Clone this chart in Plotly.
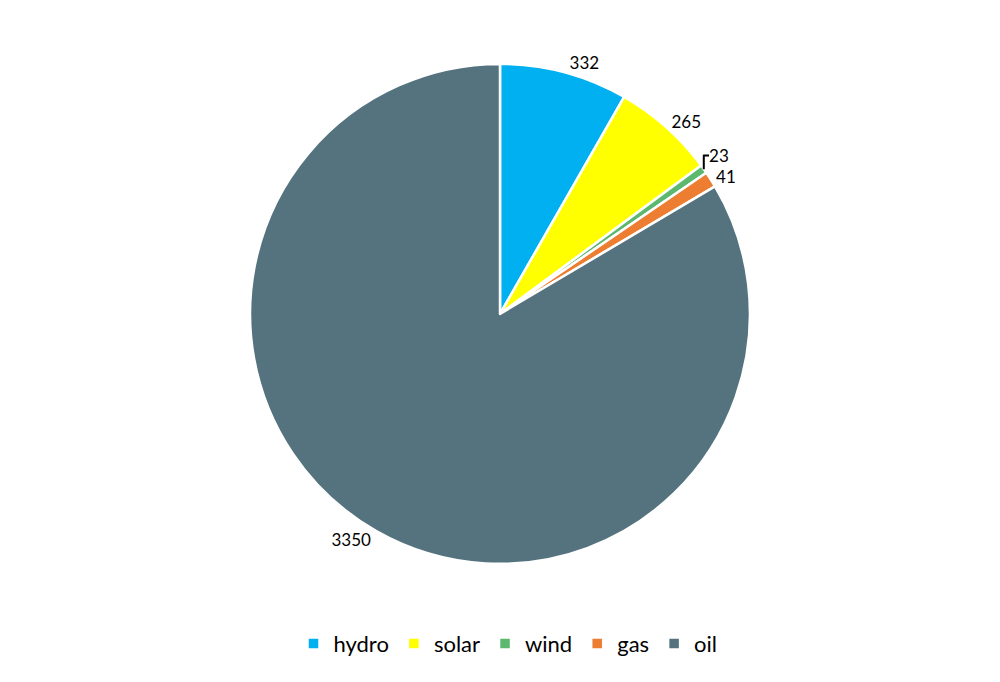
import plotly.graph_objects as go

# Energy mix values
sources = ["hydro", "solar", "wind", "gas", "oil"]
amounts = [332, 265, 23, 41, 3350]
colors = ["#00B0F0", "#FFFF00", "#5CB86E", "#ED7D31", "#54737E"]

fig = go.Figure(go.Pie(
    labels=sources,
    values=amounts,
    sort=False,
    direction="clockwise",
    rotation=0,
    marker=dict(colors=colors, line=dict(color="white", width=2.5)),
    textinfo="value",
    textposition="outside",
    textfont=dict(size=17, color="black", family="Lato"),
    domain=dict(x=[0.242, 0.742], y=[0.185, 0.918]),
    hoverinfo="label+value",
))

fig.update_layout(
    width=1000, height=682,
    margin=dict(l=0, r=0, t=0, b=0),
    paper_bgcolor="white",
    font=dict(family="Lato", color="black"),
    legend=dict(
        orientation="h",
        x=0.5, xanchor="center",
        y=0.037, yanchor="bottom",
        font=dict(size=22),
        itemwidth=30,
    ),
)

fig.write_html("out.html")
